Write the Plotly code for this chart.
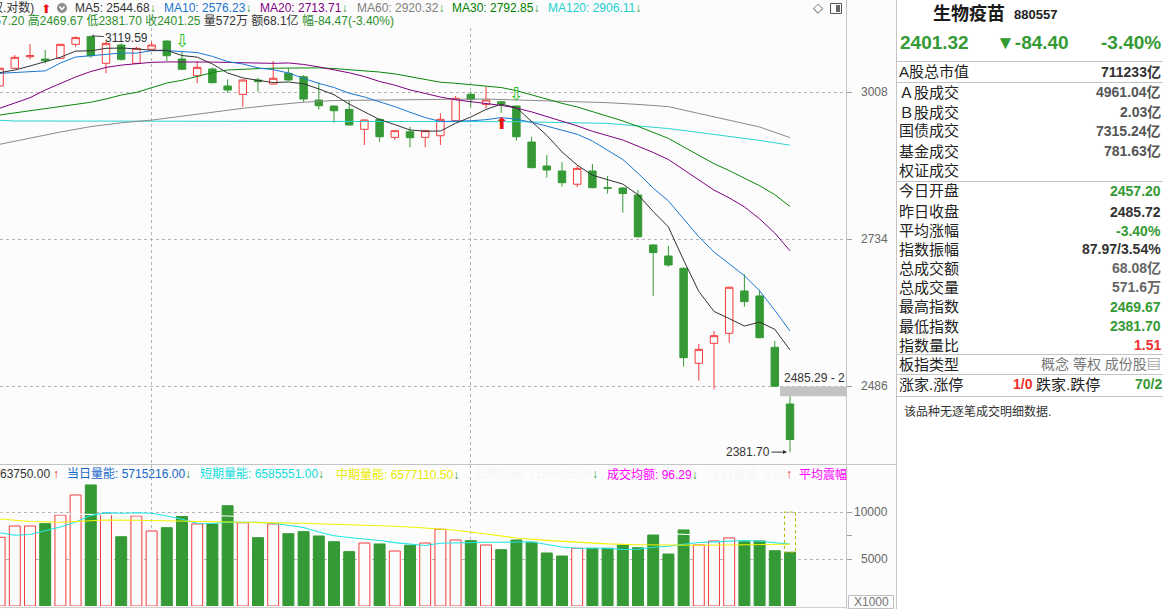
import math
import plotly.graph_objects as go

W, H = 1163, 609

# ---------------- data ----------------
OPEN = [3019.7, 3054.6, 3077.6, 3073.0, 3074.4, 3102.4, 3118.0, 3064.5, 3101.0, 3064.5,
        3092.4, 3109.1, 3073.0, 3039.9, 3053.2, 3019.7, 3003.5, 3031.5, 3023.6, 3044.7,
        3038.0, 2992.4, 2980.7, 2974.4, 2936.1, 2955.2, 2920.9, 2931.6, 2920.9, 2923.9,
        2952.6, 3003.5, 2984.0, 2989.0, 2980.7, 2912.0, 2867.1, 2857.8, 2833.4, 2857.8,
        2827.0, 2826.5, 2813.7, 2724.0, 2704.6, 2683.1, 2522.9, 2555.8, 2572.4, 2644.0,
        2635.5, 2549.1, 2457.20]
HIGH = [3055.5, 3081.0, 3103.0, 3091.0, 3103.5, 3118.5, 3119.59, 3107.7, 3104.4, 3097.6,
        3107.7, 3110.5, 3087.6, 3069.0, 3055.8, 3032.9, 3032.5, 3036.0, 3069.0, 3054.6,
        3041.3, 3026.6, 2982.0, 2991.0, 2955.0, 2956.5, 2935.0, 2941.1, 2935.0, 2966.8,
        3000.2, 3008.6, 3018.2, 2990.5, 2982.0, 2922.0, 2887.6, 2874.6, 2867.0, 2870.9,
        2848.6, 2828.0, 2822.8, 2725.0, 2722.3, 2685.0, 2554.6, 2576.2, 2651.0, 2672.8,
        2645.7, 2559.6, 2469.67]
LOW = [3018.5, 3053.5, 3072.4, 3064.5, 3073.5, 3097.6, 3075.6, 3044.7, 3069.6, 3063.0,
       3091.0, 3069.0, 3051.0, 3025.0, 3025.0, 3006.6, 2979.5, 3008.6, 3022.0, 3030.0,
       2988.5, 2974.1, 2948.8, 2943.0, 2906.4, 2912.6, 2915.8, 2902.1, 2902.1, 2906.4,
       2951.0, 2979.5, 2976.4, 2967.8, 2914.5, 2863.0, 2845.4, 2829.0, 2828.0, 2826.0,
       2816.3, 2781.7, 2737.0, 2635.5, 2686.0, 2517.3, 2494.6, 2480.7, 2557.0, 2617.3,
       2564.0, 2485.29, 2381.70]
CLOSE = [3054.6, 3076.4, 3079.6, 3069.6, 3102.4, 3116.0, 3079.6, 3104.4, 3072.4, 3094.4,
         3101.0, 3079.6, 3052.6, 3056.5, 3026.2, 3011.9, 3031.5, 3028.2, 3034.9, 3031.5,
         2994.3, 2981.3, 2971.7, 2944.4, 2953.9, 2922.0, 2933.5, 2920.2, 2933.5, 2955.2,
         2995.7, 2993.8, 2992.4, 2985.0, 2922.0, 2864.0, 2859.7, 2836.3, 2862.7, 2827.1,
         2826.0, 2816.3, 2738.6, 2710.5, 2688.9, 2532.1, 2545.8, 2568.4, 2650.3, 2625.7,
         2565.1, 2485.72, 2401.25]

MA5 = [3045.9, 3051.2, 3059.1, 3068.0, 3076.5, 3088.8, 3089.4, 3094.4, 3095.0, 3093.4,
       3090.4, 3090.4, 3080.0, 3076.8, 3063.2, 3045.4, 3035.7, 3030.9, 3026.5, 3027.6,
       3024.1, 3014.0, 3002.7, 2984.6, 2969.1, 2954.7, 2945.1, 2934.8, 2932.6, 2932.9,
       2947.6, 2959.7, 2974.1, 2984.4, 2977.8, 2951.4, 2924.6, 2893.4, 2868.9, 2850.0,
       2842.4, 2833.7, 2814.1, 2783.7, 2756.1, 2697.3, 2643.2, 2609.1, 2597.1, 2584.5,
       2591.1, 2579.0, 2544.7]
MA10 = [3044.6, 3046.2, 3048.2, 3049.5, 3065.0, 3077.0, 3079.6, 3082.6, 3085.0, 3084.9,
        3089.6, 3089.9, 3087.2, 3085.9, 3078.3, 3067.9, 3063.1, 3055.4, 3051.7, 3045.4,
        3034.7, 3024.9, 3016.8, 3005.6, 2998.4, 2989.4, 2979.6, 2968.8, 2958.6, 2951.0,
        2951.1, 2952.4, 2954.5, 2958.5, 2955.3, 2949.5, 2942.2, 2933.8, 2926.7, 2913.9,
        2896.9, 2879.2, 2853.8, 2826.3, 2803.0, 2769.8, 2738.4, 2711.6, 2690.4, 2670.3,
        2644.2, 2611.1, 2576.2]
MA20 = [2976.4, 2986.6, 2996.9, 3011.9, 3024.8, 3037.4, 3048.2, 3056.3, 3060.9, 3063.6,
        3066.4, 3067.2, 3067.6, 3067.6, 3067.0, 3066.2, 3065.2, 3064.8, 3064.4, 3065.2,
        3062.2, 3057.4, 3052.0, 3045.7, 3038.3, 3028.6, 3021.3, 3012.1, 3005.2, 2998.2,
        2992.9, 2988.6, 2985.6, 2982.1, 2976.8, 2969.5, 2960.9, 2951.3, 2942.7, 2932.4,
        2924.0, 2915.8, 2904.1, 2892.4, 2879.2, 2859.7, 2840.3, 2822.7, 2808.5, 2792.1,
        2770.5, 2745.1, 2713.7]
MA30 = [2963.5, 2967.7, 2972.1, 2975.7, 2979.3, 2983.5, 2988.1, 2994.4, 3002.1, 3007.3,
        3016.4, 3025.6, 3030.9, 3039.3, 3046.2, 3051.2, 3053.2, 3054.0, 3054.8, 3055.2,
        3055.4, 3055.4, 3054.1, 3052.2, 3049.8, 3047.2, 3043.6, 3038.4, 3032.9, 3027.1,
        3025.1, 3022.4, 3019.5, 3016.7, 3010.7, 3002.3, 2994.9, 2986.0, 2979.0, 2970.1,
        2960.9, 2952.1, 2941.7, 2930.1, 2918.9, 2902.9, 2886.7, 2871.4, 2858.6, 2845.0,
        2830.7, 2814.2, 2792.9]
MA60_IDX = [0, 2, 4, 6, 8, 10, 12, 14, 16, 18, 20, 22, 24, 26, 28, 30, 32, 34, 36, 38,
            40, 42, 44, 46, 48, 50, 52]
MA60 = [2907.7, 2919.6, 2931.0, 2941.3, 2948.6, 2953.7, 2961.3, 2968.3, 2976.4, 2982.7,
        2988.2, 2991.4, 2992.4, 2993.2, 2993.8, 2993.9, 2994.3, 2992.4, 2990.7, 2988.9,
        2987.3, 2983.9, 2979.7, 2966.5, 2953.5, 2940.6, 2920.3]
MA120_IDX = [0, 1, 10, 20, 30, 34, 40, 42, 44, 46, 48, 50, 52]
MA120 = [2953.3, 2952.0, 2951.6, 2951.4, 2951.0, 2950.7, 2947.4, 2943.1, 2937.6, 2930.2,
         2922.9, 2915.1, 2906.1]

VOLUME = [7310, 8510, 8510, 8760, 9680, 11810, 12880, 9790, 7370, 9580,
          7980, 8330, 9580, 8730, 8730, 10670, 8860, 7270, 8730, 7690,
          7910, 7450, 6840, 5780, 6700, 6600, 5850, 6460, 6700, 8160,
          7020, 6950, 6490, 5990, 7020, 6780, 5640, 5320, 6140, 6140,
          6140, 6490, 6200, 7550, 5530, 8090, 6490, 6920, 7240, 6840,
          6920, 5880, 5716]
VOL_SHORT = [7798, 7521, 7606, 7979, 8404, 8936, 9628, 9936, 9872, 9915,
             9862, 9574, 9234, 8798, 8777, 8904, 8936, 8915, 8798, 8564,
             8351, 7872, 7468, 7287, 7149, 6968, 6745, 6564, 6436, 6670,
             6723, 6777, 6777, 6777, 6808, 6830, 6542, 6277, 6138, 6138,
             6138, 6011, 6032, 6245, 6351, 6564, 6755, 6819, 6915, 6968,
             6883, 6755, 6586]
VOL_MID_IDX = [0, 2, 4, 6, 7, 9, 11, 13, 15, 17, 20, 22, 24, 26, 28, 30, 32, 34, 36, 38,
               40, 42, 44, 46, 48, 50, 52]
VOL_MID = [9255, 8989, 8915, 9042, 9149, 9117, 9042, 8957, 8936, 8872, 8798, 8691, 8628,
           8489, 8298, 8064, 7659, 7234, 6979, 6755, 6606, 6521, 6479, 6468, 6489, 6564, 6577]
VOL_LONG_IDX = [0, 6, 15, 25, 35, 45, 52]
VOL_LONG = [9850, 9756, 9574, 9000, 8300, 7660, 7151]
AVG_BOX_TOP = 10000

PRICE_TICKS = [3008, 2734, 2486]
VOL_TICKS = [10000, 5000]
VOL_MINOR = [7500]
DIV_IDX = [10, 31]
SIG_DOWN = [12, 34]
SIG_UP = [33]

MA_LABELS = ['MA5: 2544.68', 'MA10: 2576.23', 'MA20: 2713.71',
             'MA60: 2920.32', 'MA30: 2792.85', 'MA120: 2906.11']

# ---------------- style / geometry ----------------
BG = '#fcfcfc'
RED = '#f23c3c'
GREEN = '#359a35'
GRID = '#b4b4b4'
BORDER = '#c4c4c4'
FONT = 'Liberation Sans, Noto Sans CJK SC, sans-serif'
SYM = 'DejaVu Sans, Liberation Sans, sans-serif'
C_MA5, C_MA10, C_MA20 = '#333333', '#1a78d2', '#800080'
C_MA30, C_MA60, C_MA120 = '#0a880a', '#8a8a8a', '#2cd3d3'
TXT_G = '#2e8f2e'

PLOT_R = 846
PRICE_TOP, PRICE_BOT = 28, 463
VOL_TOP, VOL_BOT = 465, 606
SLOT = 15.2
FIRST = -0.4
XR = [-FIRST / SLOT, (PLOT_R - FIRST) / SLOT]
Y_LOG = [3.37382, 3.49630]
VOL_RANGE = [0, 15000]

N = len(CLOSE)
idx = list(range(N))

fig = go.Figure()

fig.add_trace(go.Candlestick(
    x=idx, open=OPEN, high=HIGH, low=LOW, close=CLOSE,
    increasing=dict(line=dict(color=RED, width=1), fillcolor=BG),
    decreasing=dict(line=dict(color=GREEN, width=1), fillcolor=GREEN),
    whiskerwidth=0, xaxis='x', yaxis='y', hoverinfo='skip'))

for xs, vals, col in [(MA120_IDX, MA120, C_MA120), (MA60_IDX, MA60, C_MA60),
                      (idx, MA30, C_MA30), (idx, MA20, C_MA20),
                      (idx, MA10, C_MA10), (idx, MA5, C_MA5)]:
    fig.add_trace(go.Scatter(x=xs, y=vals, mode='lines', line=dict(color=col, width=1),
                             xaxis='x', yaxis='y', hoverinfo='skip'))

up = [c >= o for o, c in zip(OPEN, CLOSE)]
fig.add_trace(go.Bar(x=[i for i in idx if up[i]], y=[VOLUME[i] for i in idx if up[i]],
                     width=0.72, marker=dict(color=BG, line=dict(color=RED, width=1)),
                     xaxis='x2', yaxis='y2', hoverinfo='skip'))
fig.add_trace(go.Bar(x=[i for i in idx if not up[i]], y=[VOLUME[i] for i in idx if not up[i]],
                     width=0.72, marker=dict(color=GREEN, line=dict(color=GREEN, width=1)),
                     xaxis='x2', yaxis='y2', hoverinfo='skip'))
for xs, vals, col in [(VOL_LONG_IDX, VOL_LONG, '#ffffff'), (idx, VOL_SHORT, '#22e5e5'),
                      (VOL_MID_IDX, VOL_MID, '#f2f200')]:
    fig.add_trace(go.Scatter(x=xs, y=vals, mode='lines', line=dict(color=col, width=1.1),
                             xaxis='x2', yaxis='y2', hoverinfo='skip'))


def px(x):
    return x / W


def py(y):
    return 1 - y / H


def T(x, y, s, color='#333333', size=12, anchor='left', bold=False, family=FONT):
    if bold:
        s = '<b>' + s + '</b>'
    return dict(x=px(x), y=py(y), xref='paper', yref='paper', text=s, showarrow=False,
                xanchor=anchor, yanchor='middle', borderpad=0,
                font=dict(family=family, size=size, color=color))


def line(x0, y0, x1, y1, color=BORDER, width=1, dash='solid'):
    return dict(type='line', xref='paper', yref='paper', x0=px(x0), y0=py(y0),
                x1=px(x1), y1=py(y1), line=dict(color=color, width=width, dash=dash))


shapes = []
# right info panel background
shapes.append(dict(type='rect', xref='paper', yref='paper', x0=px(896), x1=1, y0=0, y1=1,
                   fillcolor='#ffffff', line=dict(width=0), layer='below'))
# frame lines
shapes.append(line(846.5, 0, 846.5, H))
shapes.append(line(896.5, 0, 896.5, H))
shapes.append(line(0, 464.5, 896, 464.5))
shapes.append(line(0, 607.5, 846, 607.5, color='#d0d0d0'))
for yy in [61.5, 82.5, 181.5, 354.5, 374.5, 396.5]:
    shapes.append(line(896, yy, W, yy))
# X1000 box
shapes.append(dict(type='rect', xref='paper', yref='paper', x0=px(848.5), x1=px(893.5),
                   y0=py(608.5), y1=py(595.5), line=dict(color='#c0c0c0', width=1)))
# gap box between last two candles
shapes.append(dict(type='rect', xref='x', yref='y', x0=N - 1 - 0.65, x1=N + 6,
                   y0=HIGH[-1], y1=LOW[-2], fillcolor='#c3c3c3', line=dict(width=0)))
# dotted box over the last volume bar
shapes.append(dict(type='rect', xref='x2', yref='y2', x0=N - 1 - 0.36, x1=N - 1 + 0.36,
                   y0=VOLUME[-1], y1=AVG_BOX_TOP, line=dict(color='#b5b500', width=1, dash='dot')))
# header icons
shapes.append(dict(type='circle', xref='paper', yref='paper', x0=px(57), x1=px(67),
                   y0=py(13), y1=py(3), fillcolor='#8c8c8c', line=dict(width=0)))
shapes.append(dict(type='path', xref='paper', yref='paper',
                   path='M {:.5f},{:.5f} L {:.5f},{:.5f} L {:.5f},{:.5f}'.format(
                       px(59.5), py(6.5), px(62), py(9.5), px(64.5), py(6.5)),
                   line=dict(color='#ffffff', width=1.5)))
shapes.append(dict(type='rect', xref='paper', yref='paper', x0=px(830.5), x1=px(841.5),
                   y0=py(13.5), y1=py(3.5), line=dict(color='#555555', width=1)))
shapes.append(dict(type='rect', xref='paper', yref='paper', x0=px(836), x1=px(840),
                   y0=py(12), y1=py(5), fillcolor='#666666', line=dict(width=0)))

ann = []
ARW_DN = '<span style="color:#2e9a2e">↓</span>'
ARW_UP = '<span style="color:#ee2222">↑</span>'

# price header line 1
ann.append(T(35, 8, '前复权.对数)', '#333333', anchor='right'))
ann.append(T(46, 8.5, '⬆', '#ee1111', 12, anchor='center', family=SYM))
for xl, lab, col in zip([74, 163, 259, 356, 451, 547], MA_LABELS,
                        [C_MA5, '#1874cd', C_MA20, '#808080', '#008000', '#20d0d0']):
    ann.append(T(xl, 8, lab + ARW_DN, col))
ann.append(T(817.5, 8, '◇', '#555555', 13, anchor='center', family=SYM))

# price header line 2
l2 = ('<span style="color:{g}">开2457.20 高2469.67 低2381.70 收2401.25</span> '
      '<span style="color:#333333">量572万 额68.1亿</span> '
      '<span style="color:{g}">幅-84.47(-3.40%)</span>').format(g=TXT_G)
ann.append(T(-32, 21, l2))

# volume header
ann.append(T(51, 474, '63750.00', '#333333', anchor='right'))
ann.append(T(52, 474, ARW_UP))
ann.append(T(65.7, 474, '当日量能: 5715216.00' + ARW_DN, '#1466c8'))
ann.append(T(199, 474, '短期量能: 6585551.00' + ARW_DN, '#10dcdc'))
ann.append(T(335, 474, '中期量能: 6577110.50' + ARW_DN, '#eaea00'))
ann.append(T(473, 474, '长期量能: 7150825.00' + ARW_DN, '#f6f6f6'))
ann.append(T(605.7, 474, '成交均额: 96.29' + ARW_DN, '#ff00ff'))
ann.append(T(708, 474, '今日震幅: 3.54', '#f6f6f6'))
ann.append(T(785, 474, ARW_UP))
ann.append(T(798, 474, '平均震幅', '#ff00ff'))

# axis tick labels
for v in PRICE_TICKS:
    ann.append(dict(x=px(890), y=math.log10(v), xref='paper', yref='y', text=str(v),
                    showarrow=False, xanchor='right', yanchor='middle',
                    font=dict(family=FONT, size=12, color='#666666')))
for v in VOL_TICKS:
    ann.append(dict(x=px(890), y=v, xref='paper', yref='y2', text=str(v),
                    showarrow=False, xanchor='right', yanchor='middle',
                    font=dict(family=FONT, size=12, color='#666666')))
ann.append(T(871, 602, 'X1000', '#777777', 12, anchor='center'))

# data-linked marks on the price pane
imax = HIGH.index(max(HIGH))
ann.append(dict(x=imax, y=math.log10(HIGH[imax]), xref='x', yref='y',
                text='{:.2f}'.format(HIGH[imax]), showarrow=True, ax=36, ay=2,
                arrowhead=1, arrowsize=0.6, arrowwidth=1, arrowcolor='#444444', standoff=1,
                font=dict(family=FONT, size=12, color='#333333')))
ann.append(dict(x=N - 1, y=math.log10(LOW[-1]), xref='x', yref='y',
                text='{:.2f}'.format(LOW[-1]), showarrow=True, ax=-42, ay=0,
                arrowhead=2, arrowsize=0.8, arrowwidth=1, arrowcolor='#333333', standoff=3,
                font=dict(family=FONT, size=12, color='#333333')))
ann.append(dict(x=N - 1 - 0.45, y=math.log10(LOW[-2]), xref='x', yref='y',
                text='{:.2f} - 2'.format(LOW[-2]), showarrow=False, xanchor='left',
                yanchor='bottom', borderpad=0,
                font=dict(family=FONT, size=12, color='#333333')))
for i in SIG_DOWN:
    ann.append(dict(x=i, y=math.log10(HIGH[i]), xref='x', yref='y', text='⇩',
                    showarrow=False, yanchor='bottom', yshift=-1,
                    font=dict(family=SYM, size=18, color='#2ec42e')))
for i in SIG_UP:
    ann.append(dict(x=i, y=math.log10(LOW[i]), xref='x', yref='y', text='⬆',
                    showarrow=False, yanchor='top', yshift=1,
                    font=dict(family=SYM, size=16, color='#ee1111')))

# right info panel
ann.append(T(932, 14, '生物疫苗', '#1a1a1a', 18, bold=True))
ann.append(T(1013, 15, '880557', '#222222', 13, bold=True))
ann.append(T(899, 42, '2401.32', GREEN, 19, bold=True))
ann.append(T(1070, 42, '▼-84.40', GREEN, 19, anchor='right', bold=True))
ann.append(T(1162, 42, '-3.40%', GREEN, 19, anchor='right', bold=True))
rows = [(72, 'A股总市值', '711233亿', '#333333'),
        (92, 'Ａ股成交', '4961.04亿', '#555555'),
        (112, 'Ｂ股成交', '2.03亿', '#555555'),
        (131, '国债成交', '7315.24亿', '#555555'),
        (151, '基金成交', '781.63亿', '#555555'),
        (170, '权证成交', '', '#555555'),
        (191, '今日开盘', '2457.20', GREEN),
        (211.7, '昨日收盘', '2485.72', '#333333'),
        (230.7, '平均涨幅', '-3.40%', GREEN),
        (249.3, '指数振幅', '87.97/3.54%', '#333333'),
        (268.3, '总成交额', '68.08亿', '#666666'),
        (287.3, '总成交量', '571.6万', '#666666'),
        (306.7, '最高指数', '2469.67', GREEN),
        (326, '最低指数', '2381.70', GREEN),
        (345, '指数量比', '1.51', '#f03030')]
for yy, lab, val, col in rows:
    ann.append(T(898, yy, lab, '#222222', 15))
    if val:
        ann.append(T(1162, yy, val, col, 14, anchor='right', bold=True))
ann.append(T(898, 364, '板指类型', '#222222', 15))
ann.append(T(1162, 364, '概念 等权 成份股▤', '#777777', 14, anchor='right'))
ann.append(T(898, 384, '涨家.涨停', '#222222', 15))
ann.append(T(1012, 384, '1/0', '#f03030', 14, bold=True))
ann.append(T(1035, 384, '跌家.跌停', '#222222', 15))
ann.append(T(1163, 384, '70/2', GREEN, 14, anchor='right', bold=True))
ann.append(T(903, 412, '该品种无逐笔成交明细数据.', '#333333', 12))

axis_common = dict(showticklabels=False, zeroline=False, showline=False, fixedrange=True)
fig.update_layout(
    width=W, height=H, margin=dict(l=0, r=0, t=0, b=0), autosize=False,
    paper_bgcolor=BG, plot_bgcolor=BG, showlegend=False, barmode='overlay',
    hovermode=False, shapes=shapes, annotations=ann,
    xaxis=dict(domain=[0, PLOT_R / W], range=XR, anchor='y', tickmode='array',
               tickvals=DIV_IDX, ticks='', showgrid=True, gridcolor=GRID, griddash='dot',
               gridwidth=1, rangeslider=dict(visible=False), **axis_common),
    xaxis2=dict(domain=[0, PLOT_R / W], range=XR, anchor='y2', tickmode='array',
                tickvals=DIV_IDX, ticks='', showgrid=True, gridcolor=GRID, griddash='dot',
                gridwidth=1, **axis_common),
    yaxis=dict(domain=[py(PRICE_BOT), py(PRICE_TOP)], type='log', range=Y_LOG, anchor='x',
               side='right', tickmode='array', tickvals=PRICE_TICKS, ticks='outside',
               ticklen=5, tickcolor='#a0a0a0', showgrid=True, gridcolor=GRID,
               griddash='dot', **axis_common),
    yaxis2=dict(domain=[py(VOL_BOT), py(VOL_TOP)], range=VOL_RANGE, anchor='x2',
                side='right', tickmode='array', tickvals=VOL_TICKS, ticks='outside',
                ticklen=5, tickcolor='#a0a0a0', showgrid=True, gridcolor=GRID,
                griddash='dot',
                minor=dict(tickmode='array', tickvals=VOL_MINOR, ticks='outside', ticklen=5,
                           tickcolor='#a0a0a0', showgrid=False),
                **axis_common),
)

fig.write_html('out.html')
